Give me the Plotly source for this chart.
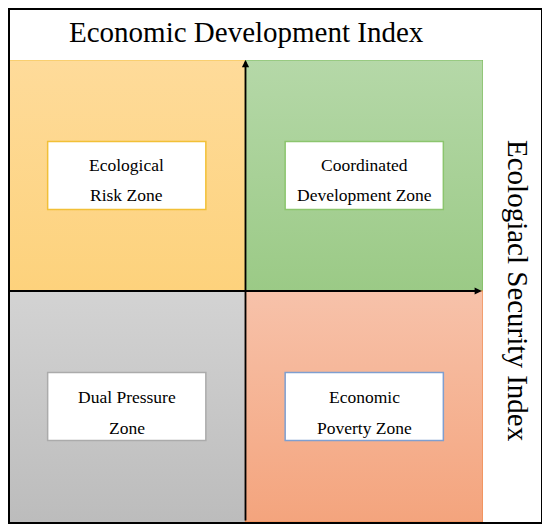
import plotly.graph_objects as go

# quadrant zones: label lines, side of each axis, colours
zone_line1 = ["Ecological", "Coordinated", "Dual Pressure", "Economic"]
zone_line2 = ["Risk Zone", "Development Zone", "Zone", "Poverty Zone"]
zone_x_side = [-1, 1, -1, 1]
zone_y_side = [1, 1, -1, -1]
fill_top = ["#FEDB9A", "#B5D8A8", "#D3D3D3", "#F7C2AA"]
fill_bottom = ["#FDD27C", "#9BCA86", "#BCBCBC", "#F4A47D"]
edge_color = ["#F4C446", "#7DBB5C", "#BDBDBD", "#EE8A4C"]
box_edge = ["#F2C037", "#8CC56E", "#ABABAB", "#7F9FD0"]

x_title = "Economic Development Index"
y_title = "Ecologiacl Security Index"

FONT = "Liberation Serif, Times New Roman, serif"
W, H = 540, 519  # page body has an 8px margin

fig = go.Figure()

for i in range(len(zone_line1)):
    sx, sy = zone_x_side[i], zone_y_side[i]
    fig.add_trace(go.Scatter(
        x=[0, sx, sx, 0, 0], y=[0, 0, sy, sy, 0],
        mode="lines", fill="toself",
        line=dict(color=edge_color[i], width=1.2),
        fillgradient=dict(type="vertical",
                          colorscale=[[0, fill_bottom[i]], [1, fill_top[i]]]),
        hoverinfo="skip", showlegend=False,
    ))

shapes = []
annotations = []
for i in range(len(zone_line1)):
    cx, cy = zone_x_side[i] * 0.5, zone_y_side[i] * 0.5
    shapes.append(dict(type="rect", xref="x", yref="y",
                       x0=cx - 0.333, x1=cx + 0.333,
                       y0=cy - 0.147, y1=cy + 0.147,
                       fillcolor="white", line=dict(color=box_edge[i], width=1.5),
                       layer="above"))
    up = 11 if zone_y_side[i] > 0 else 10
    down = -19 if zone_y_side[i] > 0 else -21
    annotations.append(dict(x=cx, y=cy, xref="x", yref="y", text=zone_line1[i],
                            showarrow=False, yshift=up, xanchor="center", yanchor="middle",
                            font=dict(family=FONT, size=17.5, color="black")))
    annotations.append(dict(x=cx, y=cy, xref="x", yref="y", text=zone_line2[i],
                            showarrow=False, yshift=down, xanchor="center", yanchor="middle",
                            font=dict(family=FONT, size=17.5, color="black")))

# axes arrows
annotations.append(dict(x=0, y=1, ax=0, ay=-1, xref="x", yref="y", axref="x", ayref="y",
                        text="", showarrow=True, arrowhead=2, arrowsize=0.8, arrowwidth=1.8,
                        arrowcolor="black"))
annotations.append(dict(x=0.995, y=0, ax=-1, ay=0, xref="x", yref="y", axref="x", ayref="y",
                        text="", showarrow=True, arrowhead=2, arrowsize=0.8, arrowwidth=1.8,
                        arrowcolor="black"))

# titles
annotations.append(dict(x=238.5 / W, y=1 - 24 / H, xref="paper", yref="paper", text=x_title,
                        showarrow=False, xanchor="center", yanchor="middle",
                        font=dict(family=FONT, size=29, color="black")))
annotations.append(dict(x=510 / W, y=1 - 283 / H, xref="paper", yref="paper", text=y_title,
                        textangle=90, showarrow=False, xanchor="center", yanchor="middle",
                        font=dict(family=FONT, size=29, color="black")))

# outer frame
shapes.append(dict(type="rect", xref="paper", yref="paper",
                   x0=1 / W, x1=534 / W, y0=1 - 515 / H, y1=1 - 1 / H,
                   line=dict(color="black", width=2), layer="above"))

fig.update_layout(
    width=W, height=H,
    margin=dict(l=0, r=0, t=0, b=0),
    paper_bgcolor="white", plot_bgcolor="white",
    xaxis=dict(range=[-1, 1], domain=[0, 475 / W], visible=False, fixedrange=True),
    yaxis=dict(range=[-1, 1], domain=[1 - 514 / H, 1 - 52 / H], visible=False, fixedrange=True),
    shapes=shapes, annotations=annotations,
)

fig.write_html("out.html")
